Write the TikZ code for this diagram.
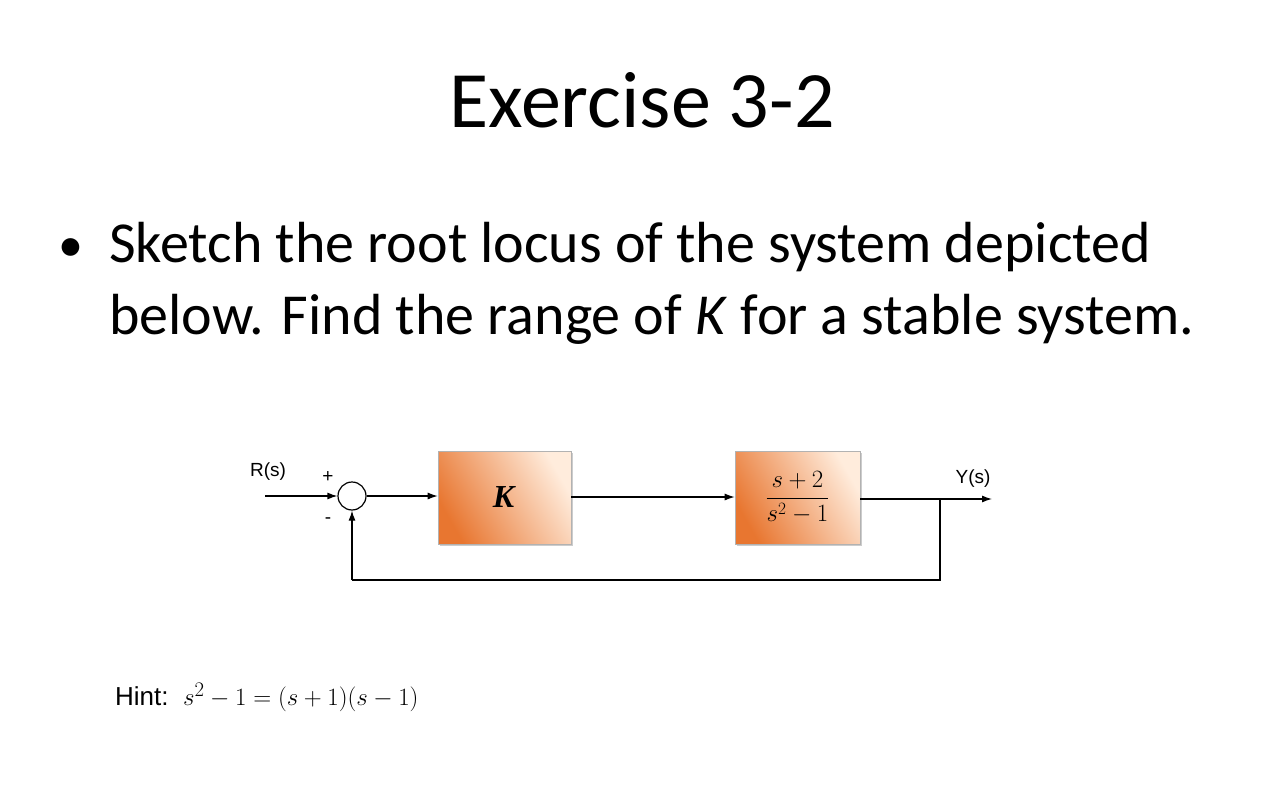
\documentclass[tikz,border=0pt]{standalone}
\usepackage{fontspec}
\setmainfont{Carlito}
\newfontfamily\arialf{Liberation Sans}
\newfontfamily\timesf{Liberation Serif}
\usetikzlibrary{arrows.meta,shadows}
\definecolor{odark}{RGB}{232,118,48}
\definecolor{olight}{RGB}{255,236,220}
\tikzset{x=1pt,y=-1pt,
 blk/.style={draw=gray!60,line width=0.6pt,inner sep=0pt,left color=odark,right color=olight,shading angle=120,drop shadow={shadow xshift=1.5pt,shadow yshift=-1.5pt,opacity=0.4}},
 sig/.style={line width=1.2pt,-{Latex[length=10pt,width=7pt]}},
 wire/.style={line width=1.2pt},
 lab/.style={font=\arialf\fontsize{19}{22}\selectfont,inner sep=0pt}}
\begin{document}
\begin{tikzpicture}
\useasboundingbox (0,0) rectangle (1280,789);
\node (title) at (642,100) {\fontsize{80}{96}\selectfont Exercise 3-2};
\node[anchor=west,inner sep=0pt] (bul) at (58,250) {\fontsize{50}{60}\selectfont •};
\node[anchor=north west,align=left,inner sep=0pt,font=\fontsize{58}{72}\selectfont] (body) at (109,222) {Sketch the root locus of the system depicted\\ below. Find the range of \textit{K} for a stable system.};
\node[circle,draw,line width=1.2pt,minimum size=28pt,inner sep=0pt] (sum) at (352,496) {};
\node[blk,minimum width=133pt,minimum height=93pt] (K) at (504.5,497.5) {\timesf\fontsize{32}{36}\selectfont\textbf{\textit{K}}};
\node[blk,minimum width=125pt,minimum height=93pt] (G) at (797.5,497.5) {\fontsize{24}{28}\selectfont$\displaystyle\frac{s+2}{s^2-1}$};
\coordinate (in) at (265,496);
\coordinate (br) at (940,499);
\coordinate (out) at (992,499);
\coordinate (bl) at (940,580);
\coordinate (br2) at (352,580);
\draw[sig] (in) -- (sum.west);
\draw[sig] (sum.east) -- (K.west |- sum.east);
\draw[sig] (K.east |- 0,497) -- (G.west |- 0,497);
\draw[sig] (G.east |- 0,499) -- (out);
\draw[wire] (br) -- (bl) -- (br2);
\draw[sig] (br2) -- (sum.south);
\node[lab] (R) at (268,472) {R(s)};
\node[lab] (plus) at (328,477) {+};
\node[lab] (minus) at (328,521) {-};
\node[lab] (Y) at (973,479) {Y(s)};
\node[anchor=west,inner sep=0pt] (hint) at (115,697) {\arialf\fontsize{26}{30}\selectfont Hint:\ \ \fontsize{28}{30}\selectfont$s^2-1=(s+1)(s-1)$};
\end{tikzpicture}
\end{document}
